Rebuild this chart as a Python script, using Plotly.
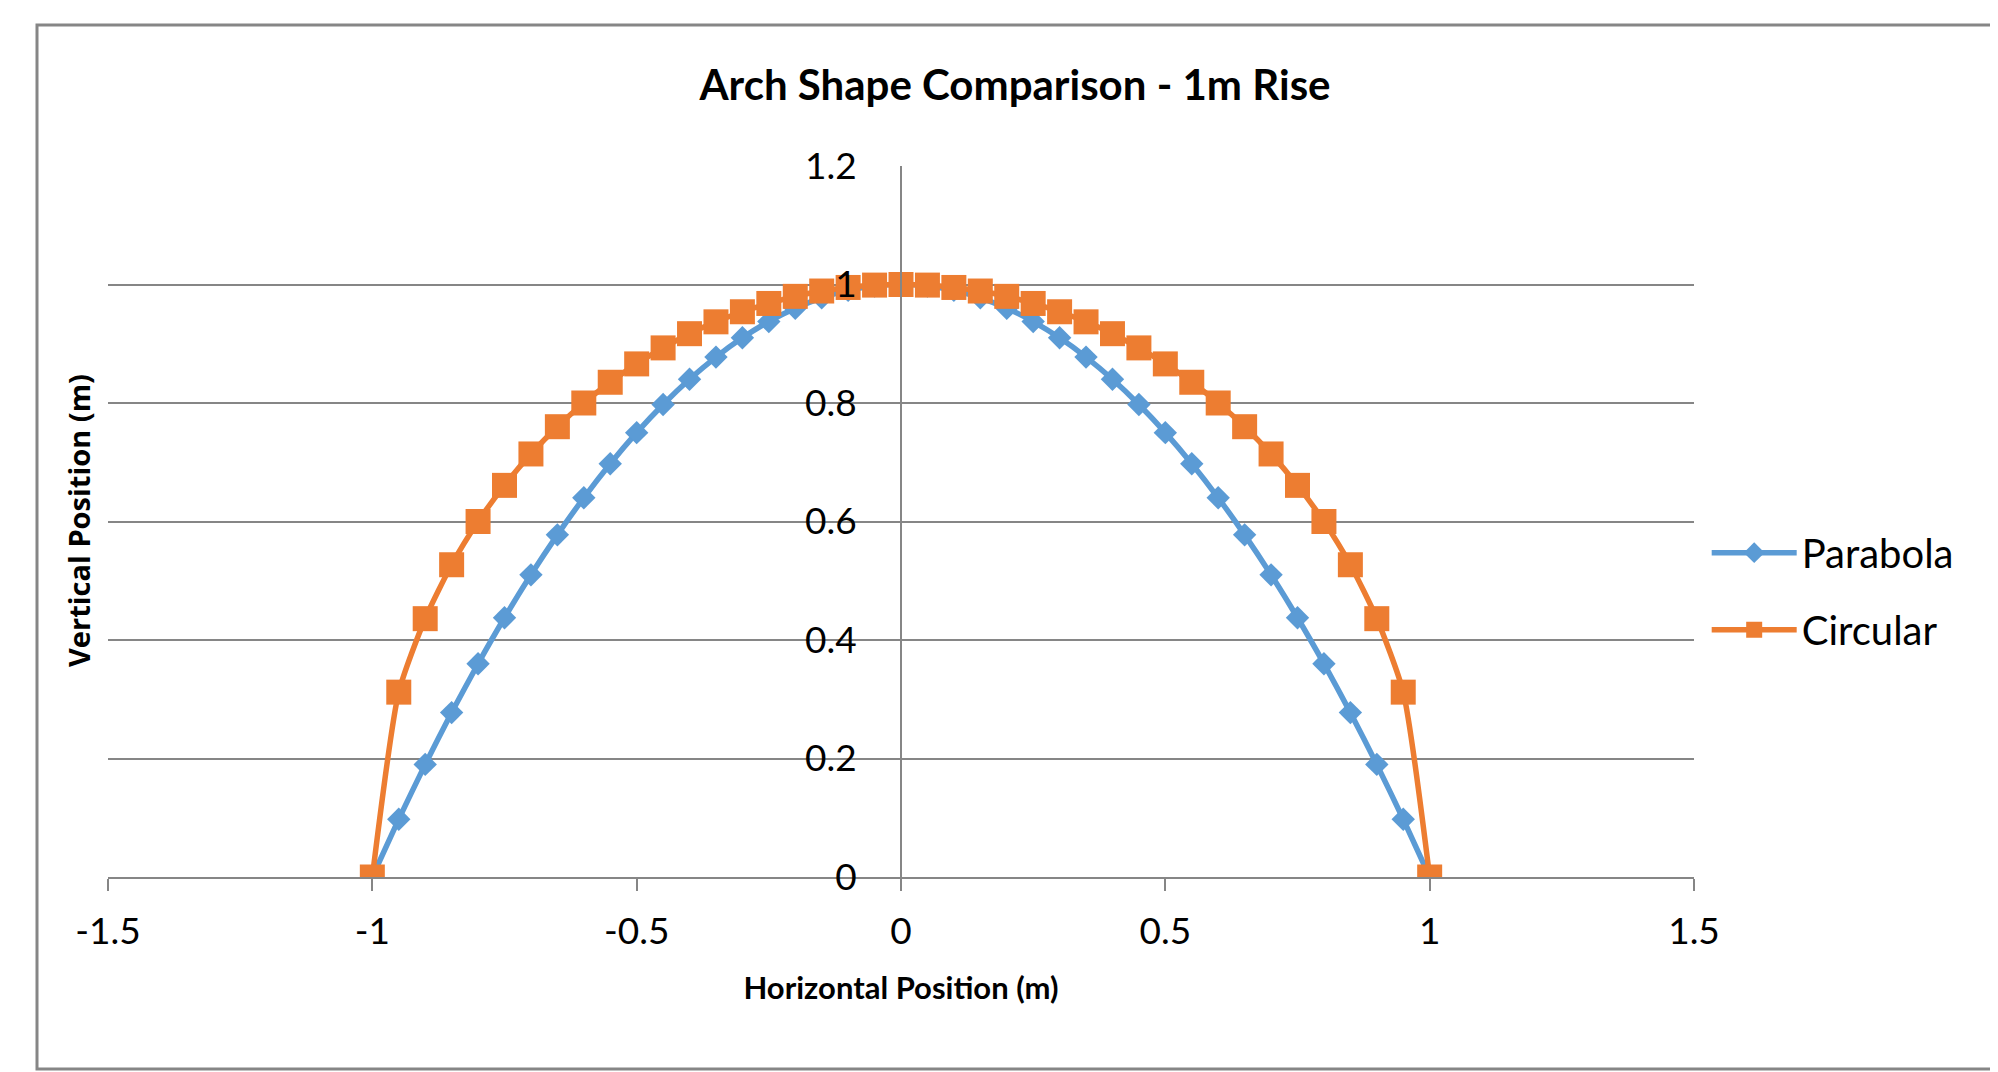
import plotly.graph_objects as go

# x positions along the span (m)
x_pos = [-1.0, -0.95, -0.9, -0.85, -0.8, -0.75, -0.7, -0.65, -0.6, -0.55, -0.5,
         -0.45, -0.4, -0.35, -0.3, -0.25, -0.2, -0.15, -0.1, -0.05, 0.0,
         0.05, 0.1, 0.15, 0.2, 0.25, 0.3, 0.35, 0.4, 0.45, 0.5,
         0.55, 0.6, 0.65, 0.7, 0.75, 0.8, 0.85, 0.9, 0.95, 1.0]

parabola = [0.0, 0.0975, 0.19, 0.2775, 0.36, 0.4375, 0.51, 0.5775, 0.64, 0.6975, 0.75,
            0.7975, 0.84, 0.8775, 0.91, 0.9375, 0.96, 0.9775, 0.99, 0.9975, 1.0,
            0.9975, 0.99, 0.9775, 0.96, 0.9375, 0.91, 0.8775, 0.84, 0.7975, 0.75,
            0.6975, 0.64, 0.5775, 0.51, 0.4375, 0.36, 0.2775, 0.19, 0.0975, 0.0]

circular = [0.0, 0.312, 0.436, 0.527, 0.6, 0.661, 0.714, 0.76, 0.8, 0.835, 0.866,
            0.893, 0.917, 0.937, 0.954, 0.968, 0.98, 0.989, 0.995, 0.999, 1.0,
            0.999, 0.995, 0.989, 0.98, 0.968, 0.954, 0.937, 0.917, 0.893, 0.866,
            0.835, 0.8, 0.76, 0.714, 0.661, 0.6, 0.527, 0.436, 0.312, 0.0]

# axis ticks (Excel style plain hyphen for negatives)
x_ticks = [-1.5, -1.0, -0.5, 0.0, 0.5, 1.0, 1.5]
x_labels = ['-1.5', '-1', '-0.5', '0', '0.5', '1', '1.5']
y_ticks = [0.0, 0.2, 0.4, 0.6, 0.8, 1.0, 1.2]
y_labels = ['0', '0.2', '0.4', '0.6', '0.8', '1', '1.2']

BLUE = '#5B9BD5'
ORANGE = '#ED7D31'
GRAY = '#868686'
FONT = 'Lato'

# figure is drawn 8px smaller than the window (page body margin)
W, H = 1990, 1064
L, R, T, B = 100, 304, 158, 195
PW, PH = W - L - R, H - T - B

fig = go.Figure()
fig.add_trace(go.Scatter(
    x=x_pos, y=parabola, name='Parabola', mode='lines+markers',
    line=dict(color=BLUE, width=5.5, shape='spline', smoothing=0.6),
    marker=dict(symbol='diamond', size=18, color=BLUE),
    legendgroup='p',
))
fig.add_trace(go.Scatter(
    x=x_pos, y=circular, name='Circular', mode='lines+markers',
    line=dict(color=ORANGE, width=5.5, shape='spline', smoothing=0.6),
    marker=dict(symbol='square', size=25, color=ORANGE),
    legendgroup='c',
))

fig.update_layout(
    width=W, height=H,
    margin=dict(l=L, r=R, t=T, b=B),
    paper_bgcolor='white', plot_bgcolor='white',
    font=dict(family=FONT, color='black'),
    title=dict(text='<b>Arch Shape Comparison - 1m Rise</b>',
               x=1007 / W, xanchor='center', y=1 - 77 / H, yanchor='middle',
               font=dict(size=42, family=FONT)),
    xaxis=dict(
        range=[-1.5, 1.5], tickvals=x_ticks, ticktext=x_labels,
        showgrid=False, zeroline=False,
        showline=True, linecolor=GRAY, linewidth=2,
        ticks='outside', ticklen=12, tickwidth=2, tickcolor=GRAY,
        ticklabelstandoff=9,
        tickfont=dict(size=37),
        title=dict(text='<b>Horizontal Position (m)</b>', font=dict(size=31), standoff=26),
    ),
    yaxis=dict(
        range=[0, 1.2], tickvals=y_ticks, ticktext=y_labels,
        anchor='free', position=0.5,
        showgrid=True, gridcolor=GRAY, gridwidth=2,
        zeroline=False,
        showline=True, linecolor=GRAY, linewidth=2,
        ticks='', ticklabelstandoff=36,
        tickfont=dict(size=37),
    ),
    legend=dict(
        x=1.008, xanchor='left', y=0.402, yanchor='middle',
        font=dict(size=40), tracegroupgap=22, itemwidth=85,
        bgcolor='rgba(0,0,0,0)',
    ),
    shapes=[dict(type='rect', xref='paper', yref='paper',
                 x0=(29 - L) / PW, x1=(1987 - L) / PW,
                 y0=(T + PH - 1061) / PH, y1=(T + PH - 17) / PH,
                 line=dict(color=GRAY, width=3), layer='below')],
    annotations=[dict(text='<b>Vertical Position (m)</b>', textangle=-90,
                      xref='paper', yref='paper',
                      x=(70 - L) / PW, y=(T + PH - 513) / PH,
                      xanchor='center', yanchor='middle', showarrow=False,
                      font=dict(size=29, family='Open Sans'))],
)

fig.write_html('out.html')
